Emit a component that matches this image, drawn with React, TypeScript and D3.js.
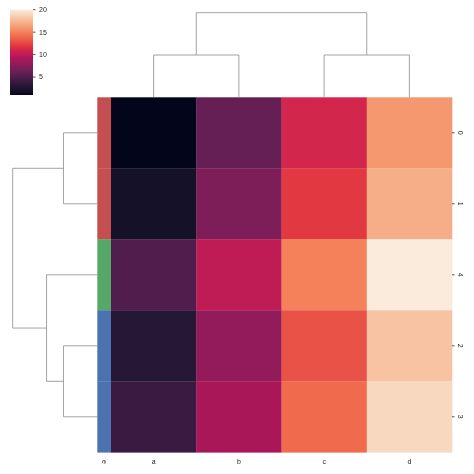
import React from "react";
import * as d3 from "d3";

// ---- data ----
const colLabels = ["a", "b", "c", "d"];
const rowLabels = ["0", "1", "4", "2", "3"]; // display order (clustered)
// values per displayed row, columns a..d
const rowValues: number[][] = [
  [1, 6, 11, 16],
  [2, 7, 12, 17],
  [5, 10, 15, 20],
  [3, 8, 13, 18],
  [4, 9, 14, 19],
];
const rowGroupColors = ["#C44E52", "#C44E52", "#55A868", "#4C72B0", "#4C72B0"];
const rowColorsLabel = "e";
// linkage: [childA, childB, height]; leaves are 0..n-1 in display order
const colLinks: [number, number, number][] = [
  [0, 1, 11.18],
  [2, 3, 11.18],
  [4, 5, 22.36],
];
const rowLinks: [number, number, number][] = [
  [0, 1, 2],
  [3, 4, 2],
  [2, 6, 3],
  [5, 7, 5],
];
const cbTicks = [5, 10, 15, 20];
const vmin = 1;
const vmax = 20;
const rocketStops = ["#03051a", "#35193e", "#701f57", "#ad1759", "#e13342", "#f37651", "#f6b48f", "#faebdd"];

const rocket = d3.piecewise(d3.interpolateHcl, rocketStops);
const color = (v: number) => rocket((v - vmin) / (vmax - vmin));

function dendroSegments(nLeaves: number, links: [number, number, number][], leafPos: (i: number) => number) {
  const pos: number[] = [];
  const h: number[] = [];
  for (let i = 0; i < nLeaves; i++) {
    pos.push(leafPos(i));
    h.push(0);
  }
  const segs: { p: number[]; hh: number[] }[] = [];
  links.forEach(([a, b, height]) => {
    segs.push({ p: [pos[a], pos[a], pos[b], pos[b]], hh: [h[a], height, height, h[b]] });
    pos.push((pos[a] + pos[b]) / 2);
    h.push(height);
  });
  return segs;
}

export default function App() {
  const W = 474;
  const hmX0 = 111, hmX1 = 452, hmY0 = 97.3, hmY1 = 452.3;
  const rcX0 = 97.3;
  const x = d3.scaleBand<string>().domain(colLabels).range([hmX0, hmX1]);
  const y = d3.scaleBand<string>().domain(rowLabels).range([hmY0, hmY1]);

  const colMax = d3.max(colLinks, (d) => d[2])!;
  const rowMax = d3.max(rowLinks, (d) => d[2])!;
  const colH = d3.scaleLinear().domain([0, colMax * 1.05]).range([hmY0, hmY0 - 84.6 * 1.05]);
  const rowH = d3.scaleLinear().domain([0, rowMax * 1.05]).range([rcX0, rcX0 - 84.6 * 1.05]);

  const colSegs = dendroSegments(colLabels.length, colLinks, (i) => x(colLabels[i])! + x.bandwidth() / 2);
  const rowSegs = dendroSegments(rowLabels.length, rowLinks, (i) => y(rowLabels[i])! + y.bandwidth() / 2);

  const cbX0 = 10, cbX1 = 33;
  const cbY = d3.scaleLinear().domain([vmin, vmax]).range([95, 9.7]);
  const gradStops = d3.range(0, 1.0001, 0.025);

  const font = "'Liberation Sans', Arial, sans-serif";
  const textColor = "#262626";
  const lineColor = "#8c8c8c";

  return (
    <svg
      width={W}
      height={W}
      style={{ position: "absolute", left: 0, top: 0, willChange: "transform" }}
      fontFamily={font}
    >
      <rect width={W} height={W} fill="#fff" />
      <defs>
        <linearGradient id="cbgrad" x1="0" y1="1" x2="0" y2="0">
          {gradStops.map((t) => (
            <stop key={t} offset={t} stopColor={rocket(t)} />
          ))}
        </linearGradient>
      </defs>

      {/* heatmap */}
      {rowValues.map((row, ri) =>
        row.map((v, ci) => (
          <rect
            key={`${ri}-${ci}`}
            x={x(colLabels[ci])}
            y={y(rowLabels[ri])}
            width={x.bandwidth() + 0.3}
            height={y.bandwidth() + 0.3}
            fill={color(v)}
          />
        ))
      )}

      {/* row colors */}
      {rowGroupColors.map((c, ri) => (
        <rect key={ri} x={rcX0} y={y(rowLabels[ri])} width={hmX0 - rcX0} height={y.bandwidth() + 0.3} fill={c} />
      ))}

      {/* column dendrogram */}
      {colSegs.map((s, i) => (
        <path
          key={i}
          d={d3.line()(s.p.map((p, k) => [p, colH(s.hh[k])] as [number, number]))!}
          fill="none"
          stroke={lineColor}
          strokeWidth={0.8}
        />
      ))}

      {/* row dendrogram */}
      {rowSegs.map((s, i) => (
        <path
          key={i}
          d={d3.line()(s.p.map((p, k) => [rowH(s.hh[k]), p] as [number, number]))!}
          fill="none"
          stroke={lineColor}
          strokeWidth={0.8}
        />
      ))}

      {/* column labels */}
      <g opacity={0.999}>
        {colLabels.map((c) => (
          <text
            key={c}
            x={x(c)! + x.bandwidth() / 2}
            y={462}
            dy="0.35em"
            textAnchor="middle"
            fontSize={7}
            fill={textColor}
          >
            {c}
          </text>
        ))}
        <text
          transform={`translate(${(rcX0 + hmX0) / 2},${462}) rotate(90)`}
          textAnchor="middle"
          dy="0.35em"
          fontSize={7}
          fill={textColor}
        >
          {rowColorsLabel}
        </text>

        {/* row labels */}
        {rowLabels.map((r) => {
          const cy = y(r)! + y.bandwidth() / 2;
          return (
            <g key={r}>
              <line x1={hmX1} x2={hmX1 + 2.5} y1={cy} y2={cy} stroke={textColor} strokeWidth={0.8} />
              <text
                transform={`translate(${460.5},${cy}) rotate(90)`}
                textAnchor="middle"
                dy="0.35em"
                fontSize={7}
                fill={textColor}
              >
                {r}
              </text>
            </g>
          );
        })}

        {/* colorbar ticks */}
        {cbTicks.map((t) => (
          <g key={t}>
            <line x1={cbX1} x2={cbX1 + 2.5} y1={cbY(t)} y2={cbY(t)} stroke={textColor} strokeWidth={0.8} />
            <text x={cbX1 + 6} y={cbY(t)} dy="0.35em" fontSize={7} fill={textColor}>
              {t}
            </text>
          </g>
        ))}
      </g>

      {/* colorbar */}
      <rect x={cbX0} y={cbY(vmax)} width={cbX1 - cbX0} height={cbY(vmin) - cbY(vmax)} fill="url(#cbgrad)" />
    </svg>
  );
}
